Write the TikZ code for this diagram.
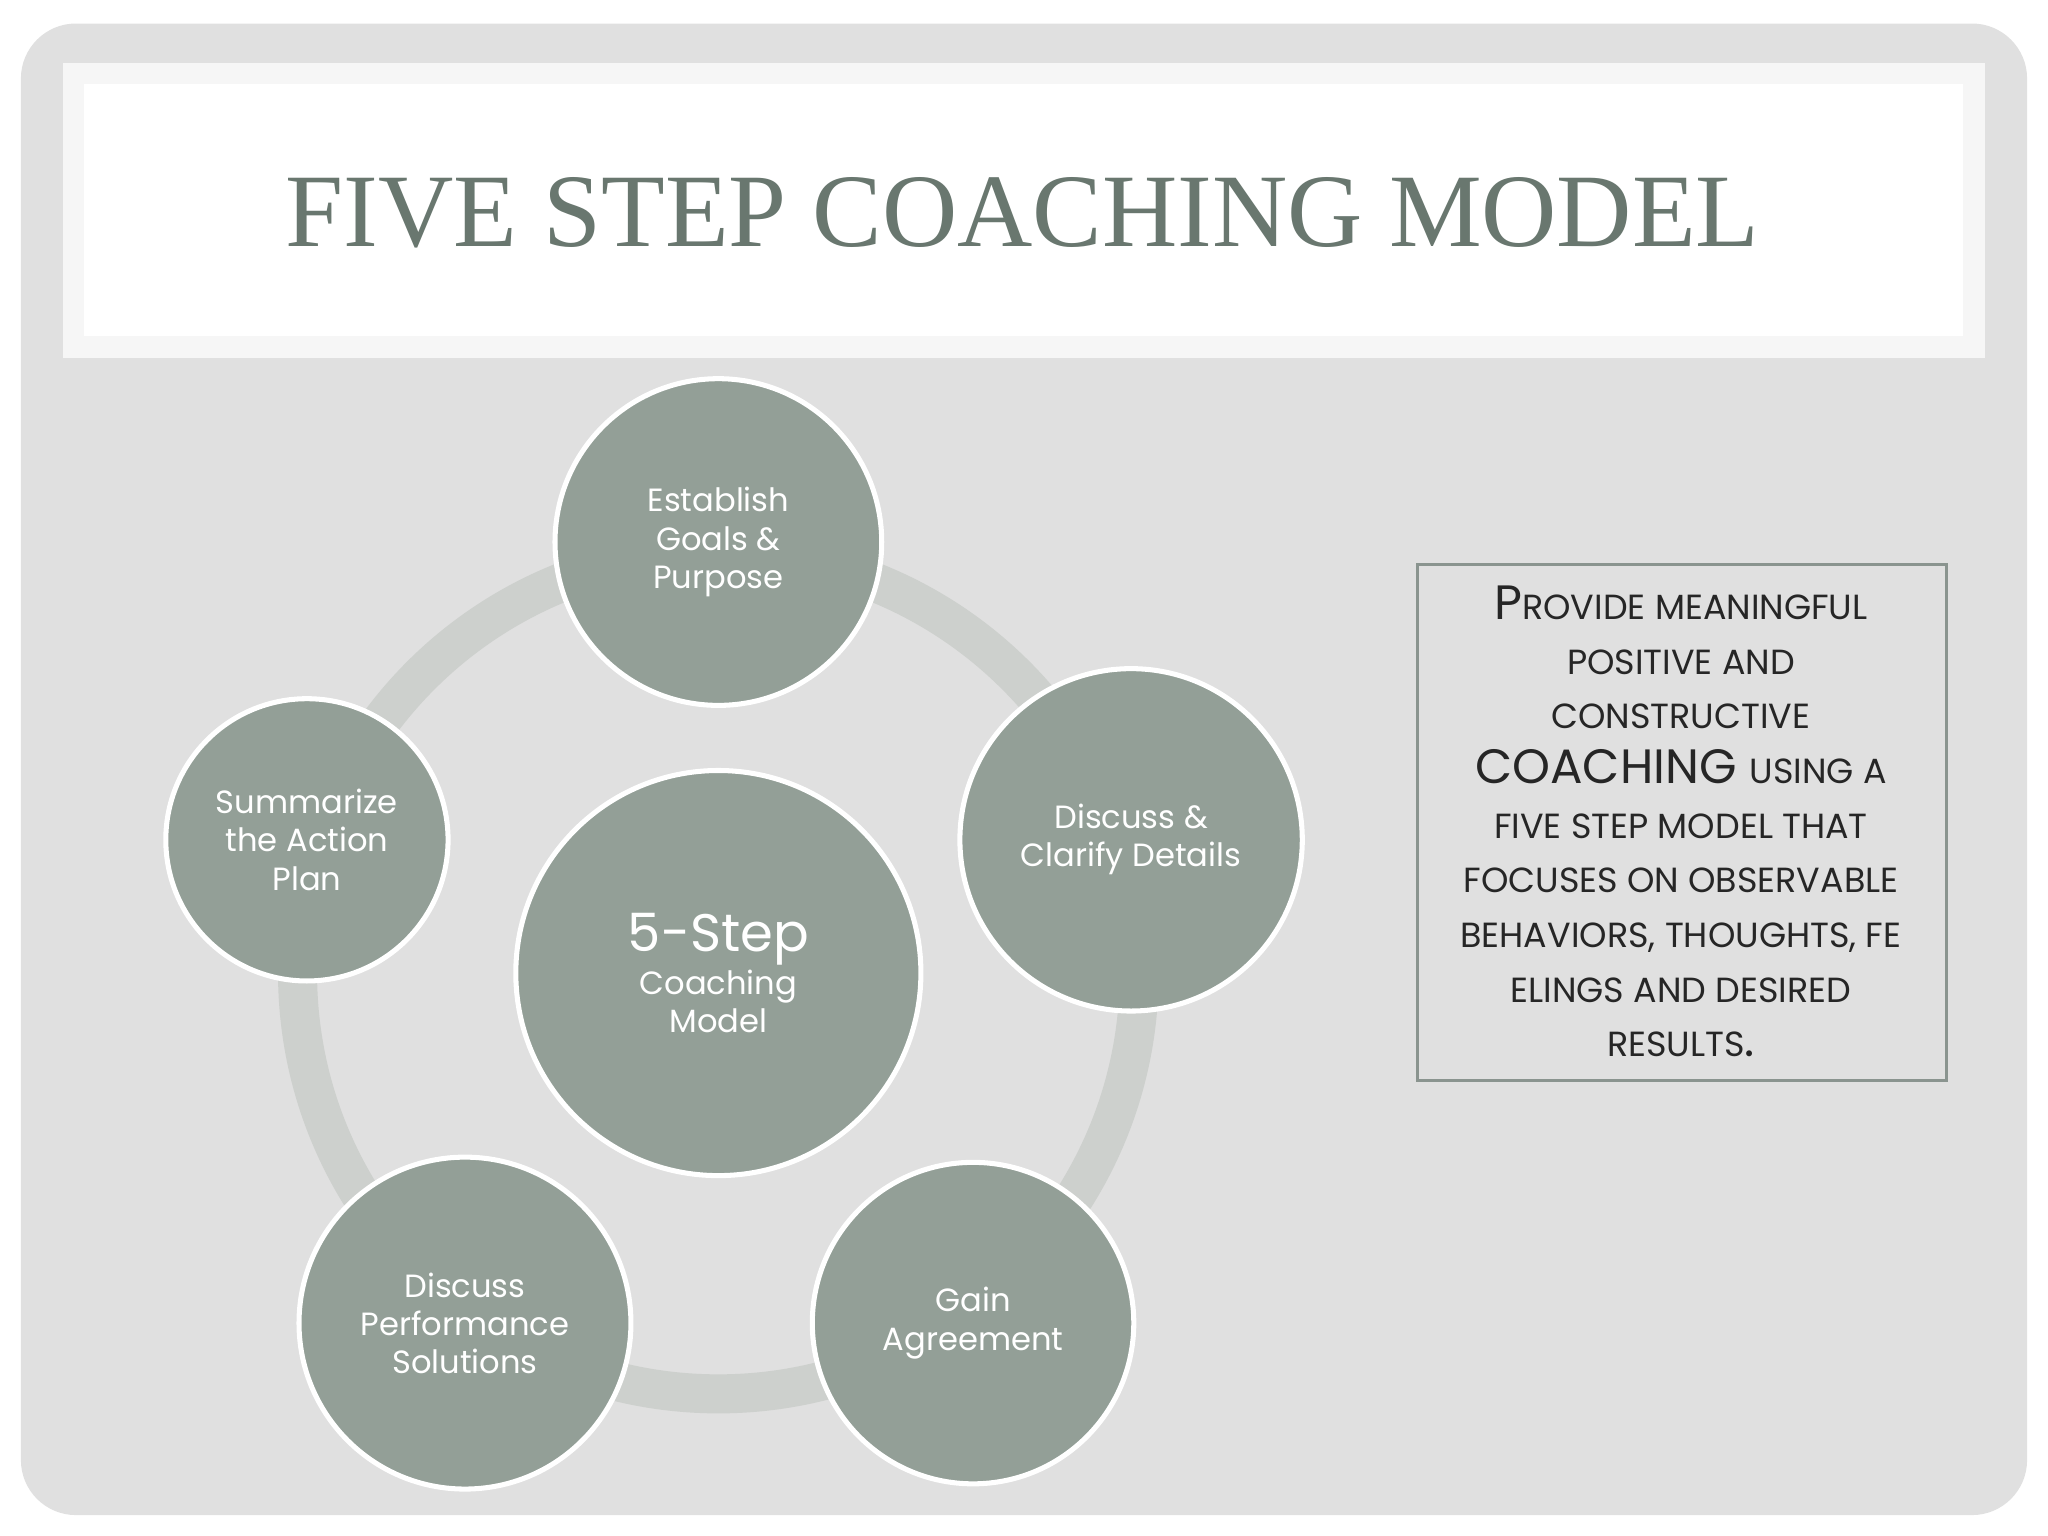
\documentclass[tikz,border=0pt]{standalone}
\usepackage{fontspec}
\setmainfont{Liberation Serif}
\newfontfamily\geo{Poppins}
\definecolor{bgc}{HTML}{E0E0E0}
\definecolor{ringc}{HTML}{CDD0CD}
\definecolor{circc}{HTML}{939F97}
\definecolor{titlec}{HTML}{69776F}
\definecolor{boxc}{HTML}{8A948F}
\newcommand{\smc}[1]{{\fontsize{7.6}{12}\selectfont #1}}
\tikzset{
 stepc/.style={circle,fill=circc,draw=white,line width=1.1pt,text=white,align=center,font=\geo\fontsize{7}{8.3}\selectfont,inner sep=0pt},
}
\begin{document}
\begin{tikzpicture}[x=0.01cm,y=-0.01cm]
\useasboundingbox (0,0) rectangle (1568,1176);
\fill[white] (0,0) rectangle (1568,1176);
\fill[bgc,rounded corners=12] (16,18) rectangle (1552,1160);
\fill[white!70!bgc] (48,48) rectangle (1520,274);
\fill[white] (64,64) rectangle (1503,257);
\node[font=\fontsize{22.7}{27}\selectfont,text=titlec] (title) at (783,163) {FIVE STEP COACHING MODEL};
\coordinate (ctr) at (550,745);
\draw[ringc,line width=8.5pt] (ctr) circle[radius=3.22cm];
\node[stepc,minimum size=3.1cm] (c0) at (550,745) {\fontsize{11.5}{13}\selectfont 5-Step\\Coaching\\Model};
\node[stepc,minimum size=2.5cm] (c1) at (550,415) {Establish\\Goals \&\\Purpose};
\node[stepc,minimum size=2.62cm] (c2) at (866,643) {Discuss \&\\Clarify Details};
\node[stepc,minimum size=2.46cm] (c3) at (745,1013) {Gain\\Agreement};
\node[stepc,minimum size=2.54cm] (c4) at (356,1013) {Discuss\\Performance\\Solutions};
\node[stepc,minimum size=2.16cm] (c5) at (235,643) {Summarize\\the Action\\Plan};
\draw[boxc,line width=0.6pt] (1085,432) rectangle (1490,827);
\node[align=center,font=\geo\fontsize{10.5}{11.9}\selectfont,text=black!85] (txt) at (1287,629) {%
P\smc{ROVIDE MEANINGFUL}\\ \smc{POSITIVE AND}\\ \smc{CONSTRUCTIVE}\\
COACHING \smc{USING A}\\ \smc{FIVE STEP MODEL THAT}\\ \smc{FOCUSES ON OBSERVABLE}\\
\smc{BEHAVIORS, THOUGHTS, FE}\\ \smc{ELINGS AND DESIRED}\\ \smc{RESULTS}.};
\end{tikzpicture}
\end{document}
